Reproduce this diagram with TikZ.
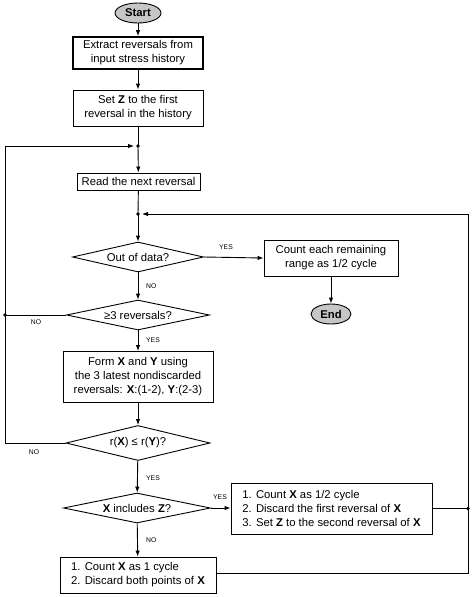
\documentclass[tikz,border=0pt]{standalone}
\usepackage{fontspec}
\setmainfont{Liberation Sans}
\usetikzlibrary{shapes.geometric,arrows.meta}
\begin{document}
\begin{tikzpicture}[x=1pt,y=-1pt,
  txt/.style={font=\fontsize{11.3}{14}\selectfont},
  box/.style={txt, draw, line width=0.9pt, align=center, inner sep=0pt},
  dec/.style={txt, diamond, draw, line width=0.9pt, inner sep=0pt, shape aspect=4.5},
  term/.style={ellipse, draw, line width=0.9pt, fill=gray!45, inner sep=0pt, font=\fontsize{11.3}{14}\selectfont\bfseries},
  lbl/.style={font=\fontsize{6.8}{8}\selectfont, inner sep=0pt},
  ln/.style={line width=0.9pt},
  arr/.style={ln, -{Latex[length=6pt,width=4.5pt]}},
  dot/.style={circle, fill, inner sep=0pt, minimum size=3.6pt}]
\useasboundingbox (0,0) rectangle (474,597);

% nodes
\node[term, minimum width=46pt, minimum height=20pt] (start) at (138,13) {Start};
\node[box, line width=1.7pt, minimum width=130pt, minimum height=32pt] (extract) at (138,53) {Extract reversals from\\input stress history};
\node[box, minimum width=130pt, minimum height=36pt] (setz) at (138,108) {Set \textbf{Z} to the first\\reversal in the history};
\node[dot] (j1) at (138,146) {};
\node[box, minimum width=123pt, minimum height=17pt] (read) at (138.5,181.5) {Read the next reversal};
\node[dot] (j2) at (138,214) {};
\node[dec, minimum width=131pt, minimum height=30pt] (outd) at (138,257) {Out of data?};
\node[box, minimum width=134pt, minimum height=36pt] (count) at (331,258) {Count each remaining\\range as 1/2 cycle};
\node[term, minimum width=40pt, minimum height=20pt] (end) at (331,314) {End};
\node[dec, minimum width=143pt, minimum height=30pt] (ge3) at (138,315) {≥3 reversals?};
\node[box, minimum width=150pt, minimum height=51pt] (form) at (138,377) {Form \textbf{X} and \textbf{Y} using\\the 3 latest nondiscarded\\reversals: \textbf{X}:(1-2), \textbf{Y}:(2-3)};
\node[dec, minimum width=144pt, minimum height=35pt] (rxy) at (138,443) {r(\textbf{X}) ≤ r(\textbf{Y})?};
\node[dec, minimum width=147pt, minimum height=30pt] (xz) at (137,508) {\textbf{X} includes \textbf{Z}?};
\node[box, align=left, minimum width=201pt, minimum height=51pt] (half) at (331.5,508.5) {1. Count \textbf{X} as 1/2 cycle\\2. Discard the first reversal of \textbf{X}\\3. Set \textbf{Z} to the second reversal of \textbf{X}};
\node[box, align=left, minimum width=156pt, minimum height=36pt] (one) at (138,575) {1. Count \textbf{X} as 1 cycle\\2. Discard both points of \textbf{X}};

% junction points
\coordinate (lt) at (5,146);
\coordinate (lb) at (5,443);
\node[dot] (ld) at (5,315) {};
\node[dot] (rj) at (468,508.5) {};
\coordinate (rt) at (468,214);
\coordinate (rb) at (468,573);

% connectors
\draw[arr] (start) -- (extract);
\draw[arr] (extract) -- (setz);
\draw[ln] (setz) -- (j1.center);
\draw[arr] (j1.center) -- (read);
\draw[ln] (read) -- (j2.center);
\draw[arr] (j2.center) -- (outd);
\draw[arr] (outd.east) -- (count.west);
\draw[arr] (count) -- (end);
\draw[arr] (outd) -- (ge3);
\draw[arr] (ge3) -- (form);
\draw[arr] (form) -- (rxy);
\draw[arr] (rxy) -- (xz);
\draw[arr] (xz.east) -- (xz.east -| half.west);
\draw[arr] (xz) -- (one);
\draw[arr, shorten >=2pt] (rxy.west) -- (lb) -- (lt) -- (j1);
\draw[ln] (ge3.west) -- (ld.center);
\draw[ln] (half.east) -- (rj.center);
\draw[arr, shorten >=2pt] (one.east |- rb) -- (rb) -- (rt) -- (j2);

% labels
\node[lbl] (l1) at (226,247) {YES};
\node[lbl, anchor=west] (l2) at (146,286) {NO};
\node[lbl] (l3) at (36,322) {NO};
\node[lbl, anchor=west] (l4) at (146,340) {YES};
\node[lbl] (l5) at (34,452) {NO};
\node[lbl, anchor=west] (l6) at (146,478) {YES};
\node[lbl] (l7) at (220,497) {YES};
\node[lbl, anchor=west] (l8) at (146,540) {NO};
\end{tikzpicture}
\end{document}
